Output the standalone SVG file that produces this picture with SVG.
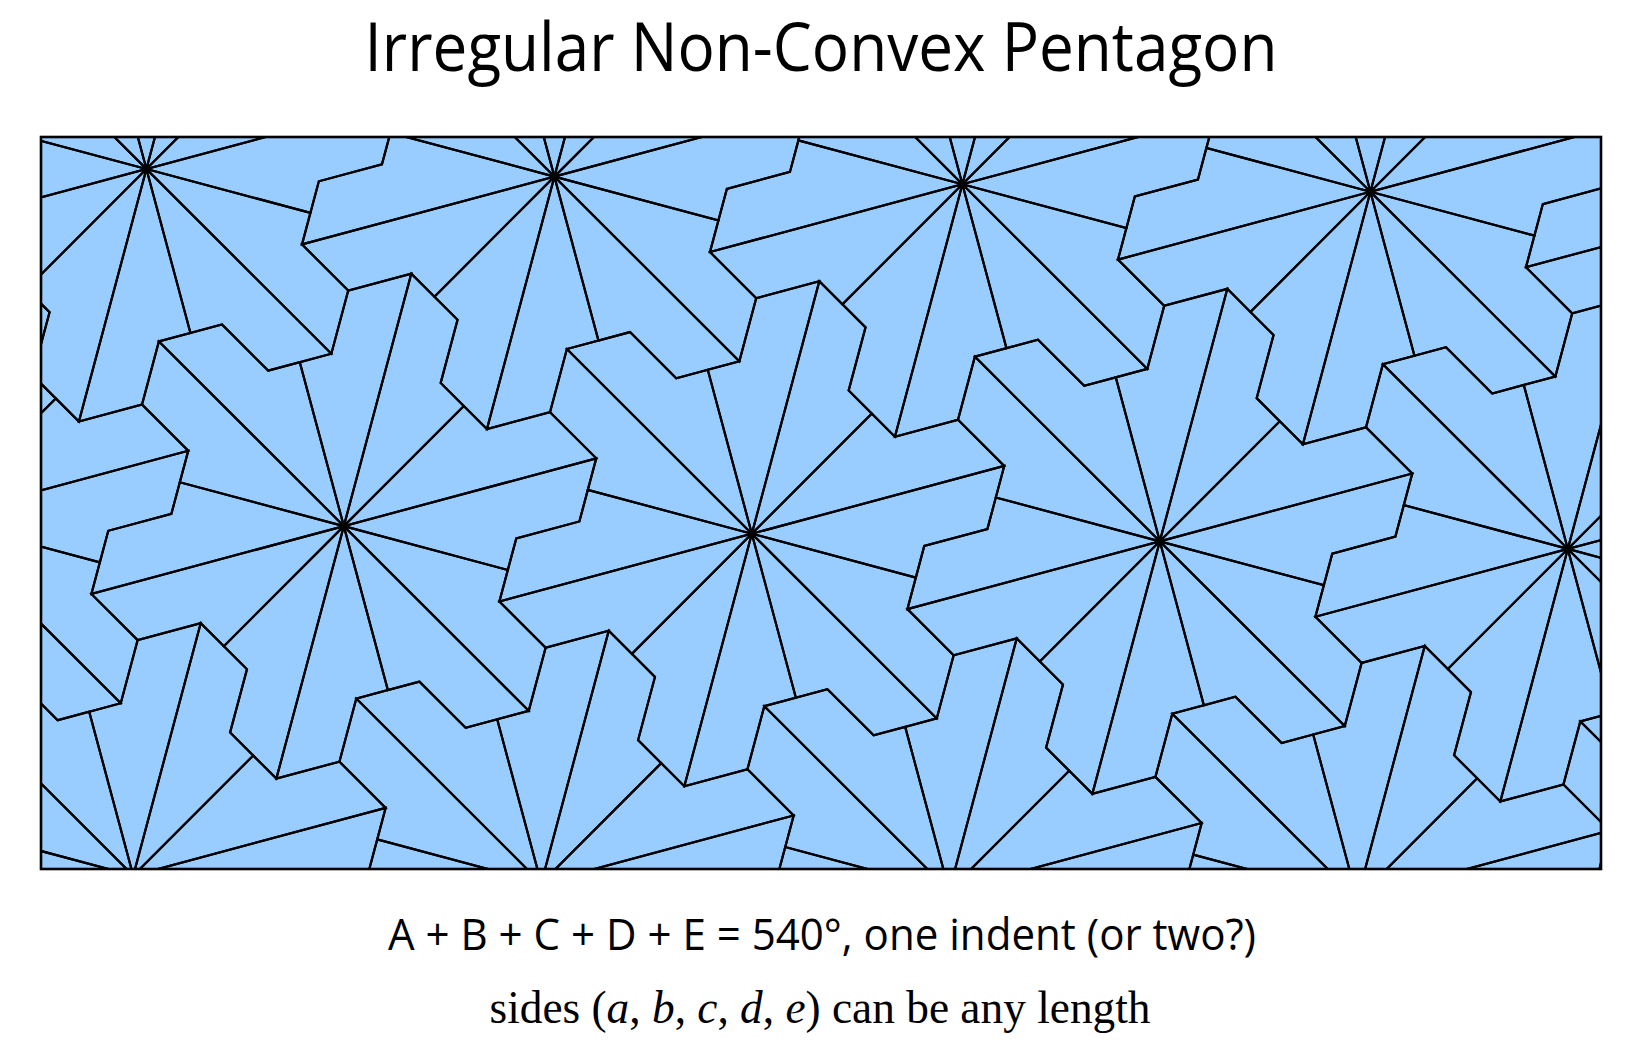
<svg xmlns="http://www.w3.org/2000/svg" xmlns:xlink="http://www.w3.org/1999/xlink" width="1642" height="1040" viewBox="0 0 1642 1040">
<style>
.tile{fill:none;stroke:#000;stroke-width:2.2;stroke-linejoin:miter}
.frame{fill:none;stroke:#000;stroke-width:2.6}
.title{font-family:"Open Sans","Noto Sans","Liberation Sans",sans-serif;font-size:68px;fill:#000}
.sub{font-family:"Open Sans","Noto Sans","Liberation Sans",sans-serif;font-size:44px;fill:#000}
.ser{font-family:"Liberation Serif","DejaVu Serif",serif;font-size:46px;fill:#000}
</style>
<defs>
<clipPath id="clip"><rect x="41" y="137" width="1560" height="732"/></clipPath>
<polygon id="p" class="tile" points="0,0 169.77,0 169.77,32.67 226.36,65.34 226.36,130.69"/>
<polygon id="q" class="tile" points="0,0 169.77,0 169.77,-32.67 226.36,-65.34 226.36,-130.69"/>
<g id="star">
<use href="#p"/><use href="#q"/>
<use href="#p" transform="rotate(60)"/><use href="#q" transform="rotate(60)"/>
<use href="#p" transform="rotate(120)"/><use href="#q" transform="rotate(120)"/>
<use href="#p" transform="rotate(180)"/><use href="#q" transform="rotate(180)"/>
<use href="#p" transform="rotate(240)"/><use href="#q" transform="rotate(240)"/>
<use href="#p" transform="rotate(300)"/><use href="#q" transform="rotate(300)"/>
</g>
</defs>
<text class="title" x="821" y="71" text-anchor="middle" textLength="913" lengthAdjust="spacingAndGlyphs">Irregular Non-Convex Pentagon</text>
<rect x="41" y="137" width="1560" height="732" fill="#99ccff"/>
<g id="tiling" clip-path="url(#clip)">
<use href="#star" transform="translate(146.4,169) rotate(14.964)"/>
<use href="#star" transform="translate(554.4,176.6) rotate(14.964)"/>
<use href="#star" transform="translate(962.4,184.2) rotate(14.964)"/>
<use href="#star" transform="translate(1370.4,191.8) rotate(14.964)"/>
<use href="#star" transform="translate(1778.4,199.4) rotate(14.964)"/>
<use href="#star" transform="translate(-64.18,518.53) rotate(14.964)"/>
<use href="#star" transform="translate(343.82,526.13) rotate(14.964)"/>
<use href="#star" transform="translate(751.82,533.73) rotate(14.964)"/>
<use href="#star" transform="translate(1159.82,541.33) rotate(14.964)"/>
<use href="#star" transform="translate(1567.82,548.93) rotate(14.964)"/>
<use href="#star" transform="translate(133.24,875.66) rotate(14.964)"/>
<use href="#star" transform="translate(541.24,883.26) rotate(14.964)"/>
<use href="#star" transform="translate(949.24,890.86) rotate(14.964)"/>
<use href="#star" transform="translate(1357.24,898.46) rotate(14.964)"/>
<use href="#star" transform="translate(1765.24,906.06) rotate(14.964)"/>
</g>
<rect class="frame" x="41" y="137" width="1560" height="732"/>
<text class="sub" x="822" y="950" text-anchor="middle" textLength="868" lengthAdjust="spacingAndGlyphs">A + B + C + D + E = 540°, one indent (or two?)</text>
<text class="ser" x="820" y="1023" text-anchor="middle" textLength="661" lengthAdjust="spacingAndGlyphs">sides (<tspan font-style="italic">a</tspan>, <tspan font-style="italic">b</tspan>, <tspan font-style="italic">c</tspan>, <tspan font-style="italic">d</tspan>, <tspan font-style="italic">e</tspan>) can be any length</text>
</svg>
